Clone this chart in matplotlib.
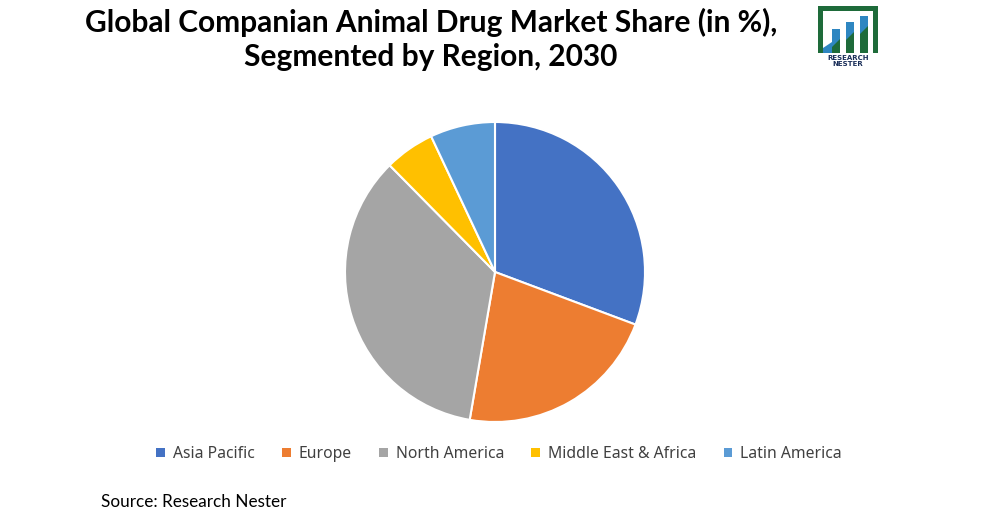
import matplotlib.pyplot as plt
from matplotlib.patches import Rectangle, Polygon

# market share by region, 2030
regions = ['Asia Pacific', 'Europe', 'North America', 'Middle East & Africa', 'Latin America']
shares = [30.7, 22.0, 34.9, 5.4, 7.0]
colors = ['#4472C4', '#ED7D31', '#A5A5A5', '#FFC000', '#5B9BD5']

W, H = 982, 514
fig = plt.figure(figsize=(W / 100, H / 100), dpi=100)

# pie: center (495, 272) px, radius 150 px
cx, cy, r = 495, 272, 150
ax = fig.add_axes([(cx - r) / W, (H - cy - r) / H, 2 * r / W, 2 * r / H])
wedges, _ = ax.pie(shares, colors=colors, startangle=90, counterclock=False,
                   radius=1, wedgeprops=dict(edgecolor='white', linewidth=1.5))
ax.set_xlim(-1, 1)
ax.set_ylim(-1, 1)
ax.set_aspect('equal')
ax.axis('off')

fig.text(431 / W, 1 - 22 / H, 'Global Companian Animal Drug Market Share (in %),',
         ha='center', va='center', fontsize=21.5, fontweight='bold', family='Lato')
fig.text(431 / W, 1 - 57 / H, 'Segmented by Region, 2030',
         ha='center', va='center', fontsize=21.5, fontweight='bold', family='Lato')

handles = [Rectangle((0, 0), 1, 1, facecolor=c) for c in colors]
fig.legend(handles, regions, loc='center', bbox_to_anchor=(499 / W, 1 - 454 / H),
           ncol=5, frameon=False, handlelength=0.55, handleheight=0.55,
           handletextpad=0.5, columnspacing=1.75,
           prop=dict(family='Noto Sans', size=11.3), labelcolor='#404040')

fig.text(101 / W, 1 - 502 / H, 'Source: Research Nester', ha='left', va='center',
         fontsize=12.3, family='Lato')

# logo
lx, ly, lw, lh = 815, 4, 66, 62
lax = fig.add_axes([lx / W, 1 - (ly + lh) / H, lw / W, lh / H])
lax.set_xlim(0, 66)
lax.set_ylim(62, 0)
lax.axis('off')
green = '#1E6B3A'
blue = '#2E86C1'
lax.add_patch(Polygon([(3, 2), (63, 2), (63, 49), (58, 49), (58, 7), (8, 7), (8, 49), (3, 49)],
                      closed=True, facecolor=green))
for bx, top in [(17, 25), (31, 18), (45, 12)]:
    lax.add_patch(Rectangle((bx, top), 8, 49 - top, facecolor=green))
    lax.add_patch(Polygon([(bx, top), (bx + 8, top), (bx + 8, top + 10), (bx, top + 18)],
                          closed=True, facecolor=blue))
lax.add_patch(Polygon([(8, 49), (8, 44), (17, 38), (17, 49)], closed=True, facecolor=blue))
lax.text(33, 54, 'RESEARCH', ha='center', va='center', fontsize=5, fontweight='bold', color='#1B2F5A')
lax.text(33, 60, 'NESTER', ha='center', va='center', fontsize=5, fontweight='bold', color='#1B2F5A')

fig.savefig('out.png', dpi=100)
